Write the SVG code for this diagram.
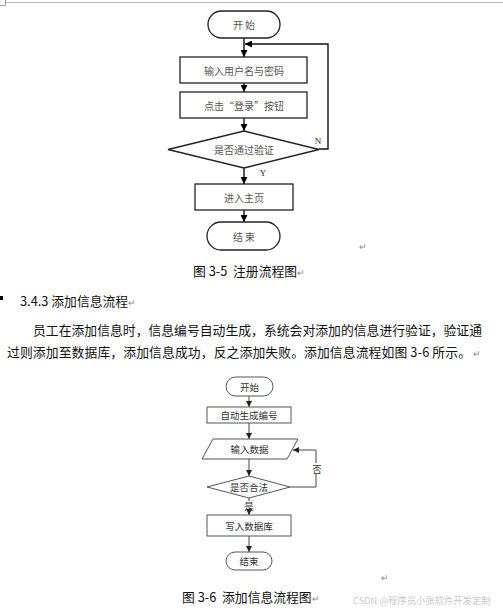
<svg xmlns="http://www.w3.org/2000/svg" width="503" height="615" viewBox="0 0 503 615">
<defs>
<style>
.shape{fill:#fff;stroke:#222;stroke-width:1.3}
.shape2{fill:#fff;stroke:#555;stroke-width:1}
.conn{fill:none;stroke:#111;stroke-width:1.4}
.conn2{fill:none;stroke:#444;stroke-width:1}
.lbl{font-family:"Noto Sans CJK SC","Liberation Serif",serif;font-size:10px;fill:#555;text-anchor:middle;dominant-baseline:central}
.lbl2{font-family:"Noto Sans CJK SC","Liberation Serif",serif;font-size:9.5px;fill:#333;text-anchor:middle;dominant-baseline:central}
.yn{font-family:"Liberation Serif",serif;font-size:9px;fill:#222;text-anchor:middle;dominant-baseline:central}
.body{font-family:"Noto Sans CJK SC","Liberation Sans",sans-serif;font-size:12.8px;fill:#111}
.mark{font-family:"Liberation Sans",sans-serif;font-size:9px;fill:#888}
</style>
<marker id="ah" viewBox="0 0 10 10" refX="10" refY="5" markerWidth="7" markerHeight="7" markerUnits="userSpaceOnUse" orient="auto"><path d="M0,0 L10,5 L0,10 z" fill="#000"/></marker>
<marker id="ah2" viewBox="0 0 10 10" refX="10" refY="5" markerWidth="6" markerHeight="6" markerUnits="userSpaceOnUse" orient="auto"><path d="M0,0 L10,5 L0,10 z" fill="#222"/></marker>
</defs>
<rect width="503" height="615" fill="#fff"/>
<path d="M6,2.5 H503" stroke="#bbb" stroke-width="1"/>
<path d="M5.5,0 V5.5 H0" fill="none" stroke="#999" stroke-width="1"/>

<g id="connectors">
<path class="conn" d="M244,38 V57" marker-end="url(#ah)"/>
<path class="conn" d="M244,83 V92" marker-end="url(#ah)"/>
<path class="conn" d="M244,118 V131" marker-end="url(#ah)"/>
<path class="conn" d="M244,168 V184" marker-end="url(#ah)"/>
<path class="conn" d="M244,210 V222" marker-end="url(#ah)"/>
<path class="conn" d="M319,149 H328 V44 H245" marker-end="url(#ah)"/>
<path class="conn2" d="M249,396 V407" marker-end="url(#ah2)"/>
<path class="conn2" d="M249,423 V439" marker-end="url(#ah2)"/>
<path class="conn2" d="M249,459 V476" marker-end="url(#ah2)"/>
<path class="conn2" d="M249,498 V501 M249,511 V515" marker-end="url(#ah2)"/>
<path class="conn2" d="M249,536 V552" marker-end="url(#ah2)"/>
<path class="conn2" d="M290,487 H316 V474 M316,463 V450 H293" marker-end="url(#ah2)"/>
</g>

<g id="n-start1"><rect class="shape" x="208" y="11" width="72" height="27" rx="13.5"/><text class="lbl" x="244" y="24.5">开 始</text></g>
<g id="n-input1"><rect class="shape" x="180" y="57" width="127" height="26"/><text class="lbl" x="244" y="70">输入用户名与密码</text></g>
<g id="n-click"><rect class="shape" x="180" y="92" width="127" height="26"/><text class="lbl" x="244" y="105">点击“登录”按钮</text></g>
<g id="n-verify"><path class="shape" d="M244,131 L319,149.5 L244,168 L168,149.5 z"/><text class="lbl" x="244" y="149.5">是否通过验证</text></g>
<g id="l-n"><text class="yn" x="318" y="141">N</text></g>
<g id="l-y"><text class="yn" x="263" y="173">Y</text></g>
<g id="n-home"><rect class="shape" x="195" y="184" width="98" height="26"/><text class="lbl" x="244" y="197">进入主页</text></g>
<g id="n-end1"><rect class="shape" x="207" y="222" width="73" height="28" rx="14"/><text class="lbl" x="244" y="236">结 束</text></g>

<text class="mark" x="359" y="250">↵</text>
<text class="body" x="193" y="276" font-size="12.5" xml:space="preserve">图 3-5  注册流程图<tspan class="mark">↵</tspan></text>

<rect x="0" y="296" width="3" height="4" fill="#000"/>
<text class="body" x="20" y="306" font-size="11.5">3.4.3 添加信息流程<tspan class="mark">↵</tspan></text>
<text class="body" x="33" y="335" textLength="449">员工在添加信息时，信息编号自动生成，系统会对添加的信息进行验证，验证通</text>
<text class="body" x="7" y="357" textLength="464">过则添加至数据库，添加信息成功，反之添加失败。添加信息流程如图 3-6 所示。</text>
<text class="mark" x="473" y="357">↵</text>

<g id="n-start2"><rect class="shape2" x="226" y="377" width="47" height="19" rx="9.5"/><text class="lbl2" x="249.5" y="386.5">开始</text></g>
<g id="n-gen"><rect class="shape2" x="207" y="407" width="84" height="16"/><text class="lbl2" x="249" y="415">自动生成编号</text></g>
<g id="n-input2"><path class="shape2" d="M213,439 L298,439 L287,459 L202,459 z"/><text class="lbl2" x="249.5" y="449">输入数据</text></g>
<g id="n-legal"><path class="shape2" d="M249,476 L290,487 L249,498 L207,487 z"/><text class="lbl2" x="249" y="487">是否合法</text></g>
<g id="l-no"><text class="lbl2" x="317" y="468.5">否</text></g>
<g id="l-yes"><text class="lbl2" x="249" y="506">是</text></g>
<g id="n-write"><rect class="shape2" x="207" y="515" width="84" height="21"/><text class="lbl2" x="249" y="525.5">写入数据库</text></g>
<g id="n-end2"><rect class="shape2" x="226" y="552" width="46" height="18" rx="9"/><text class="lbl2" x="249" y="561">结束</text></g>

<text class="mark" x="381" y="581">↵</text>
<text class="body" x="182" y="602" font-size="12.5" xml:space="preserve">图 3-6  添加信息流程图<tspan class="mark">↵</tspan></text>
<text x="353" y="604" font-family="Noto Sans CJK SC,Liberation Sans,sans-serif" font-size="9.3" fill="#c8c8c8">CSDN @程序员小张软件开发定制</text>
</svg>
